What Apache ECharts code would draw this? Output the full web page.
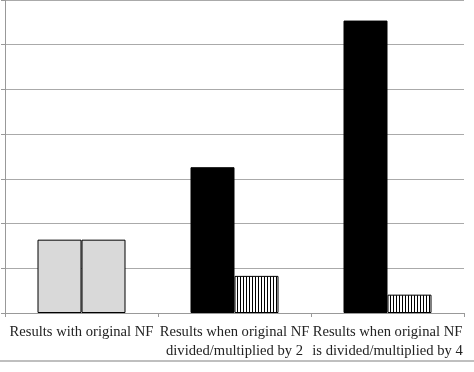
<!DOCTYPE html>
<html>
<head>
<meta charset="utf-8">
<script src="https://cdn.jsdelivr.net/npm/echarts@6/dist/echarts.min.js"></script>
<style>html,body{margin:0;padding:0;background:#fff}#c{width:474px;height:372px}</style>
</head>
<body>
<div id="c"></div>
<script>
var categories = [
  "Results with original NF",
  "Results when original NF\ndivided/multiplied by 2",
  "Results when original NF\nis divided/multiplied by 4"
];
var seriesA = [1.64, 3.26, 6.54];
var seriesB = [1.64, 0.83, 0.41];
var yTicks = [0, 1, 2, 3, 4, 5, 6, 7];

var cv = document.createElement('canvas');
cv.width = 3; cv.height = 4;
var cx = cv.getContext('2d');
cx.fillStyle = '#ffffff'; cx.fillRect(0, 0, 3, 4);
cx.fillStyle = '#000000'; cx.fillRect(0, 0, 1, 4);
var hatch = { image: cv, repeat: 'repeat' };

var gray = '#d9d9d9';
function styled(vals, colors) {
  return vals.map(function (v, i) {
    return { value: v, itemStyle: { color: colors[i], borderColor: '#000', borderWidth: 1 } };
  });
}

var chart = echarts.init(document.getElementById('c'), null, { renderer: 'canvas' });
chart.setOption({
  animation: false,
  backgroundColor: '#fff',
  grid: { left: 5, right: 10, top: -1, bottom: 59, containLabel: false },
  xAxis: {
    type: 'category',
    data: categories,
    axisLine: { lineStyle: { color: '#999', width: 1 } },
    axisTick: { show: true, length: 4, lineStyle: { color: '#999' } },
    axisLabel: {
      interval: 0,
      margin: 10,
      fontFamily: 'Liberation Serif',
      fontSize: 14.6,
      lineHeight: 18.5,
      color: '#222',
      align: 'center'
    }
  },
  yAxis: {
    type: 'value',
    min: yTicks[0],
    max: yTicks[yTicks.length - 1],
    interval: 1,
    axisLine: { show: true, lineStyle: { color: '#999', width: 1 } },
    axisTick: { show: true, length: 4, lineStyle: { color: '#999' } },
    axisLabel: { show: false },
    splitLine: { show: true, lineStyle: { color: '#aaa', width: 1 } }
  },
  series: [
    { type: 'bar', barWidth: 44, barGap: '0%', data: styled(seriesA, [gray, '#000', '#000']) },
    { type: 'bar', barWidth: 44, barGap: '0%', data: styled(seriesB, [gray, hatch, hatch]) }
  ],
  graphic: [
    { type: 'line', shape: { x1: 0, y1: 361, x2: 474, y2: 361 }, style: { stroke: '#aaa', lineWidth: 1.5 } }
  ]
});
</script>
</body>
</html>
